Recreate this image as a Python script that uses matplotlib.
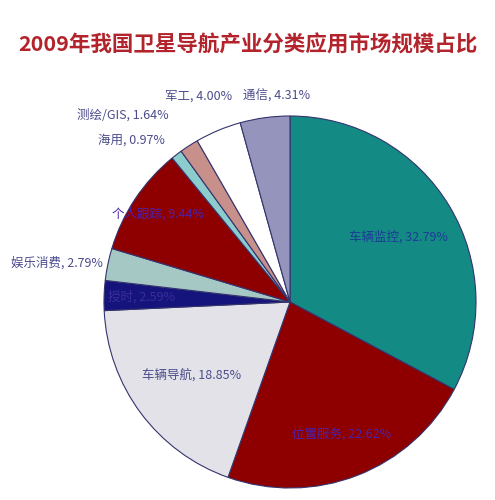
import numpy as np
import matplotlib
matplotlib.use("Agg")
import matplotlib.pyplot as plt

plt.rcParams['font.family'] = ['Noto Sans CJK SC', 'DejaVu Sans']

# data, clockwise from 12 o'clock
categories = ['车辆监控', '位置服务', '车辆导航', '授时', '娱乐消费',
              '个人跟踪', '海用', '测绘/GIS', '军工', '通信']
shares = [32.79, 22.62, 18.85, 2.59, 2.79, 9.44, 0.97, 1.64, 4.00, 4.31]

colors = ['#138a84', '#8e0000', '#e2e2e8', '#14147c', '#a6c8c4',
          '#8e0000', '#8ccccc', '#c8908a', '#ffffff', '#9494bc']
# label placement: radius, horizontal alignment, colour
label_r = [0.68, 0.76, 0.66, 0.80, 1.03, 0.85, 1.10, 1.20, 1.20, 1.12]
label_ha = ['center', 'center', 'center', 'center', 'right', 'center',
            'right', 'right', 'center', 'left']
label_col = ['#1c3c96', '#4a22b0', '#4c4c8c', '#3a2e9a', '#4c4c8c',
             '#4a22b0', '#4c4c8c', '#4c4c8c', '#4c4c8c', '#4c4c8c']

fig = plt.figure(figsize=(4.95, 5.0), dpi=100)
fig.patch.set_facecolor('white')

cx, cy, rad = 290, 302, 186
ax = fig.add_axes([(cx - rad) / 495, (500 - cy - rad) / 500, 2 * rad / 495, 2 * rad / 500])
wedges, _ = ax.pie(shares, colors=colors, startangle=90, counterclock=False,
                   radius=1.0,
                   wedgeprops=dict(edgecolor='#34346e', linewidth=0.8))
ax.set_xlim(-1, 1)
ax.set_ylim(-1, 1)
ax.set_aspect('equal')
ax.axis('off')

for w, name, val, r, ha, col in zip(wedges, categories, shares, label_r, label_ha, label_col):
    mid = np.deg2rad((w.theta1 + w.theta2) / 2)
    x, y = r * np.cos(mid), r * np.sin(mid)
    if name == '通信':
        x -= 0.1
    elif name == '军工':
        x -= 0.03
    ax.text(x, y, f'{name}, {val:.2f}%', ha=ha, va='center',
            fontsize=9, color=col, clip_on=False)

fig.text(0.5, 1 - 45 / 500, '2009年我国卫星导航产业分类应用市场规模占比',
         ha='center', va='center', fontsize=15.5, fontweight='bold', color='#b3232c')

fig.savefig('out.png', dpi=100, facecolor='white')
